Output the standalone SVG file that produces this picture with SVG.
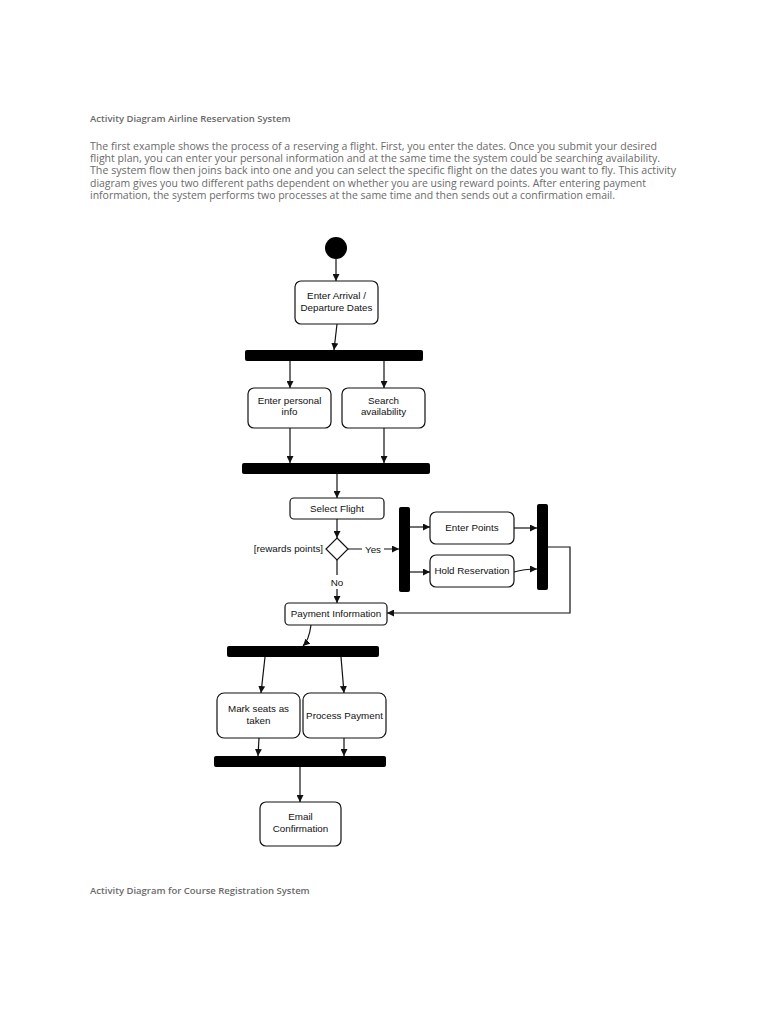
<svg xmlns="http://www.w3.org/2000/svg" width="768" height="1024" viewBox="0 0 768 1024">
<defs>
<marker id="ah" viewBox="0 0 10 10" refX="10" refY="5" markerWidth="7" markerHeight="7" orient="auto" markerUnits="userSpaceOnUse"><path d="M0,0 L10,5 L0,10 z" fill="#111"/></marker>
<style>
.hd{font-family:"Open Sans","Noto Sans",sans-serif;font-size:9.5px;font-weight:600;fill:#6a6a6a}
.pa{font-family:"Open Sans","Noto Sans",sans-serif;font-size:10.2px;fill:#6a6a6a}
.box{fill:#fff;stroke:#111;stroke-width:1.2}
.bar{fill:#000}
.t{font-family:"Liberation Sans",Arial,sans-serif;font-size:9.8px;fill:#111;text-anchor:middle}
.c{fill:none;stroke:#111;stroke-width:1.2}
</style>
</defs>
<rect width="768" height="1024" fill="#fff"/>
<text class="hd" x="90" y="122">Activity Diagram Airline Reservation System</text>
<g class="pa">
<text x="90" y="150" textLength="567" lengthAdjust="spacingAndGlyphs">The first example shows the process of a reserving a flight. First, you enter the dates. Once you submit your desired</text>
<text x="90" y="162" textLength="570" lengthAdjust="spacingAndGlyphs">flight plan, you can enter your personal information and at the same time the system could be searching availability.</text>
<text x="90" y="174" textLength="586" lengthAdjust="spacingAndGlyphs">The system flow then joins back into one and you can select the specific flight on the dates you want to fly. This activity</text>
<text x="90" y="187" textLength="556" lengthAdjust="spacingAndGlyphs">diagram gives you two different paths dependent on whether you are using reward points. After entering payment</text>
<text x="90" y="199" textLength="525" lengthAdjust="spacingAndGlyphs">information, the system performs two processes at the same time and then sends out a confirmation email.</text>
</g>
<g id="connectors">
<path class="c" d="M336,259 L336,281" marker-end="url(#ah)"/>
<path class="c" d="M337,324 L334,350" marker-end="url(#ah)"/>
<path class="c" d="M290,361 L290,388" marker-end="url(#ah)"/>
<path class="c" d="M384,361 L384,388" marker-end="url(#ah)"/>
<path class="c" d="M290,428 L290,463" marker-end="url(#ah)"/>
<path class="c" d="M384,428 L384,463" marker-end="url(#ah)"/>
<path class="c" d="M337,474 L337,498" marker-end="url(#ah)"/>
<path class="c" d="M337,519 L337,538" marker-end="url(#ah)"/>
<path class="c" d="M348,549 L362,549 M384,549 L399,549" marker-end="url(#ah)"/>
<path class="c" d="M410,527 L430,527" marker-end="url(#ah)"/>
<path class="c" d="M410,572 L430,572" marker-end="url(#ah)"/>
<path class="c" d="M514,528 L537,528" marker-end="url(#ah)"/>
<path class="c" d="M514,572 Q524,569 537,569" marker-end="url(#ah)"/>
<path class="c" d="M548,547 L570,547 L570,613 L387,613" marker-end="url(#ah)"/>
<path class="c" d="M337,560 L337,575 M337,589 L337,603" marker-end="url(#ah)"/>
<path class="c" d="M311,625 Q309,640 303,646" marker-end="url(#ah)"/>
<path class="c" d="M265,657 L261,693" marker-end="url(#ah)"/>
<path class="c" d="M341,657 L344,693" marker-end="url(#ah)"/>
<path class="c" d="M259,738 L258,756" marker-end="url(#ah)"/>
<path class="c" d="M344,738 L344,756" marker-end="url(#ah)"/>
<path class="c" d="M300,767 L300,802" marker-end="url(#ah)"/>
</g>
<g id="start"><circle cx="336" cy="248" r="11" fill="#000"/></g>
<g id="enter-dates"><rect class="box" x="295" y="281" width="83" height="43" rx="6"/><text class="t" x="336.5" y="299">Enter Arrival /</text><text class="t" x="336.5" y="311">Departure Dates</text></g>
<g id="fork1"><rect class="bar" x="245" y="350" width="178" height="11" rx="2"/></g>
<g id="enter-personal"><rect class="box" x="248" y="388" width="83" height="40" rx="6"/><text class="t" x="289.5" y="404">Enter personal</text><text class="t" x="289.5" y="415">info</text></g>
<g id="search"><rect class="box" x="342" y="388" width="83" height="40" rx="6"/><text class="t" x="383.5" y="404">Search</text><text class="t" x="383.5" y="415">availability</text></g>
<g id="join1"><rect class="bar" x="242" y="463" width="188" height="11" rx="2"/></g>
<g id="select-flight"><rect class="box" x="290" y="498" width="94" height="21" rx="4"/><text class="t" x="337" y="512">Select Flight</text></g>
<g id="decision"><path d="M337,538 L348,549 L337,560 L326,549 Z" fill="#fff" stroke="#111" stroke-width="1.2"/><text class="t" x="323" y="552" style="text-anchor:end">[rewards points]</text></g>
<text class="t" x="373" y="553">Yes</text>
<text class="t" x="337" y="586">No</text>
<g id="fork2"><rect class="bar" x="399" y="507" width="11" height="85" rx="2"/></g>
<g id="enter-points"><rect class="box" x="430" y="512" width="84" height="32" rx="6"/><text class="t" x="472" y="531">Enter Points</text></g>
<g id="hold-reservation"><rect class="box" x="430" y="555" width="84" height="32" rx="6"/><text class="t" x="472" y="574">Hold Reservation</text></g>
<g id="join2"><rect class="bar" x="537" y="504" width="11" height="86" rx="2"/></g>
<g id="payment-info"><rect class="box" x="285" y="603" width="102" height="22" rx="4"/><text class="t" x="336" y="617">Payment Information</text></g>
<g id="fork3"><rect class="bar" x="227" y="646" width="152" height="11" rx="2"/></g>
<g id="mark-seats"><rect class="box" x="217" y="693" width="83" height="45" rx="7"/><text class="t" x="258.5" y="712">Mark seats as</text><text class="t" x="258.5" y="724">taken</text></g>
<g id="process-payment"><rect class="box" x="303" y="693" width="83" height="45" rx="7"/><text class="t" x="344.5" y="719">Process Payment</text></g>
<g id="join3"><rect class="bar" x="214" y="756" width="172" height="11" rx="2"/></g>
<g id="email"><rect class="box" x="260" y="802" width="81" height="44" rx="6"/><text class="t" x="300.5" y="820">Email</text><text class="t" x="300.5" y="832">Confirmation</text></g>
<text class="hd" x="90" y="894">Activity Diagram for Course Registration System</text>
</svg>
